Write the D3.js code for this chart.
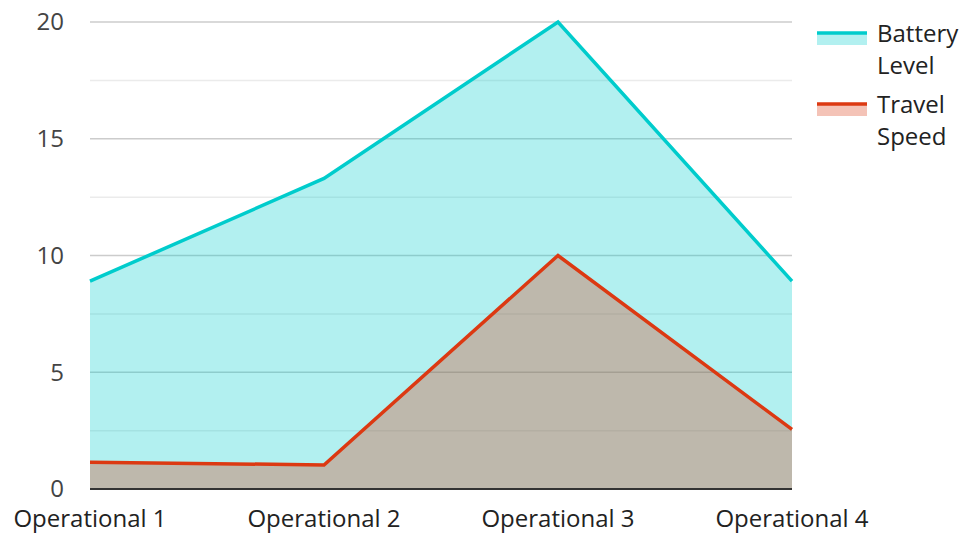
<!DOCTYPE html>
<html>
<head>
<meta charset="utf-8">
<script src="https://cdn.jsdelivr.net/npm/d3@7"></script>
<style>
  body { margin: 0; background: #fff; }
  svg { display: block; font-family: "Open Sans", sans-serif; }
</style>
</head>
<body>
<svg id="chart"></svg>
<script>
const categories = ["Operational 1", "Operational 2", "Operational 3", "Operational 4"]
const batteryLevel = [8.9, 13.3, 20, 8.9]
const travelSpeed = [1.15, 1.03, 10, 2.55]
const yTicks = [0, 5, 10, 15, 20]
const yMinorTicks = [2.5, 7.5, 12.5, 17.5]

const series = [
    { name: ["Battery", "Level"], values: batteryLevel, color: "#00cccc" },
    { name: ["Travel", "Speed"], values: travelSpeed, color: "#dc3912" }
]

const width = 965
const height = 533
const margin = { top: 22, right: 173, bottom: 44, left: 90 }
const fontSize = 24

const svg = d3.select('#chart')
    .attr("width", width)
    .attr("height", height)

const x = d3.scalePoint()
    .domain(categories)
    .range([margin.left, width - margin.right])
    .padding(0)

const y = d3.scaleLinear()
    .domain([0, 20])
    .range([height - margin.bottom, margin.top])

// gridlines
svg.append("g").selectAll("line")
    .data(yMinorTicks)
    .join("line")
    .attr("x1", margin.left).attr("x2", width - margin.right)
    .attr("y1", d => y(d)).attr("y2", d => y(d))
    .attr("stroke", "#ebebeb")
    .attr("stroke-width", 1.5)

svg.append("g").selectAll("line")
    .data(yTicks.filter(d => d !== 0))
    .join("line")
    .attr("x1", margin.left).attr("x2", width - margin.right)
    .attr("y1", d => y(d)).attr("y2", d => y(d))
    .attr("stroke", "#cccccc")
    .attr("stroke-width", 1.5)

// areas + lines
const area = d3.area()
    .x((d, i) => x(categories[i]))
    .y0(y(0))
    .y1(d => y(d))

const line = d3.line()
    .x((d, i) => x(categories[i]))
    .y(d => y(d))

series.forEach(s => {
    svg.append("path")
        .attr("d", area(s.values))
        .attr("fill", s.color)
        .attr("fill-opacity", 0.3)
})

series.forEach(s => {
    svg.append("path")
        .attr("d", line(s.values))
        .attr("fill", "none")
        .attr("stroke", s.color)
        .attr("stroke-width", 3.5)
})

// baseline
svg.append("line")
    .attr("x1", margin.left).attr("x2", width - margin.right)
    .attr("y1", y(0)).attr("y2", y(0))
    .attr("stroke", "#333")
    .attr("stroke-width", 2)

// y labels
svg.append("g").selectAll("text")
    .data(yTicks)
    .join("text")
    .attr("x", 64)
    .attr("y", d => y(d))
    .attr("dy", "0.35em")
    .attr("text-anchor", "end")
    .attr("font-size", fontSize)
    .attr("fill", "#444")
    .text(d => d)

// x labels
svg.append("g").selectAll("text")
    .data(categories)
    .join("text")
    .attr("x", d => x(d))
    .attr("y", y(0) + 38)
    .attr("text-anchor", "middle")
    .attr("font-size", fontSize)
    .attr("fill", "#222")
    .text(d => d)

// legend
const legend = svg.append("g")
    .selectAll("g")
    .data(series)
    .join("g")
    .attr("transform", (d, i) => `translate(817, ${33 + i * 71})`)

legend.append("rect")
    .attr("x", 0).attr("y", 0)
    .attr("width", 50).attr("height", 12)
    .attr("fill", d => d.color)
    .attr("fill-opacity", 0.3)

legend.append("line")
    .attr("x1", 0).attr("x2", 50)
    .attr("y1", 0).attr("y2", 0)
    .attr("stroke", d => d.color)
    .attr("stroke-width", 3.5)

legend.append("text")
    .attr("x", 60)
    .attr("y", 9)
    .attr("font-size", fontSize)
    .attr("fill", "#222")
    .selectAll("tspan")
    .data(d => d.name)
    .join("tspan")
    .attr("x", 60)
    .attr("dy", (d, i) => i === 0 ? 0 : 32)
    .text(d => d)
</script>
</body>
</html>
